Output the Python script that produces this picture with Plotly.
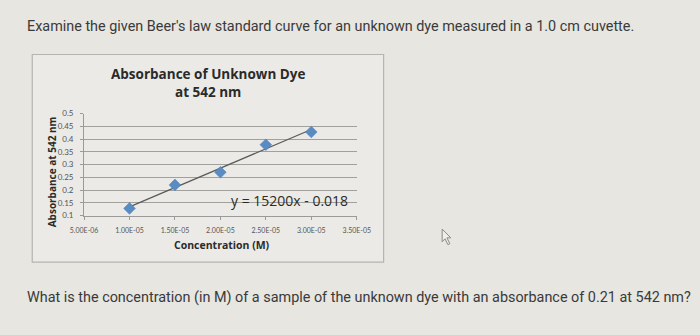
import plotly.graph_objects as go

conc = [1.0e-5, 1.5e-5, 2.0e-5, 2.5e-5, 3.0e-5]
absorb = [0.128, 0.22, 0.27, 0.378, 0.428]
slope = 15200
intercept = -0.018
trend_x = [1.0e-5, 3.0e-5]
trend_y = [slope * v + intercept for v in trend_x]

x_tickvals = [5e-6, 1e-5, 1.5e-5, 2e-5, 2.5e-5, 3e-5, 3.5e-5]
x_ticktext = ["5.00E-06", "1.00E-05", "1.50E-05", "2.00E-05", "2.50E-05", "3.00E-05", "3.50E-05"]
y_tickvals = [0.1, 0.15, 0.2, 0.25, 0.3, 0.35, 0.4, 0.45, 0.5]
y_ticktext = ["0.1", "0.15", "0.2", "0.25", "0.3", "0.35", "0.4", "0.45", "0.5"]

W, H = 700, 335
def px(x):
    return x / W
def py(y):
    return 1 - y / H

# small mouse-cursor outline seen in the screenshot (decoration)
cursor_pts = [(446, 231), (446, 244), (449, 241), (452, 247), (454, 246), (451, 240), (455, 240)]
cursor_path = "M " + " L ".join(f"{px(a):.5f},{py(b):.5f}" for a, b in cursor_pts) + " Z"

fig = go.Figure()
fig.add_trace(go.Scatter(x=trend_x, y=trend_y, mode="lines",
                         line=dict(color="#5a5a5a", width=1.2), hoverinfo="skip"))
fig.add_trace(go.Scatter(x=conc, y=absorb, mode="markers",
                         marker=dict(symbol="diamond", size=9, color="#5a8cc4",
                                     line=dict(color="#4a7bb5", width=0.5))))

font_body = "Roboto, Arial, sans-serif"
font_chart = "'Open Sans', Calibri, sans-serif"
font_tick = "Lato, Calibri, sans-serif"

fig.update_layout(
    width=W, height=H,
    margin=dict(l=0, r=0, t=0, b=0),
    paper_bgcolor="#e7e6e1",
    plot_bgcolor="rgba(0,0,0,0)",
    showlegend=False,
    xaxis=dict(domain=[px(73), px(357)], range=[5e-6, 3.5e-5],
               tickvals=x_tickvals, ticktext=x_ticktext,
               tickfont=dict(size=7, color="#555", family=font_tick),
               showgrid=False, zeroline=False,
               showline=True, linecolor="#9a9a9a", linewidth=1,
               ticks="outside", ticklen=3, tickcolor="#9a9a9a",
               ticklabelstandoff=5),
    yaxis=dict(domain=[py(217), py(112)], range=[0.1, 0.5],
               tickvals=y_tickvals, ticktext=y_ticktext,
               tickfont=dict(size=8, color="#555", family=font_tick),
               showgrid=True, gridcolor="#a0a09c", gridwidth=1,
               zeroline=False,
               showline=True, linecolor="#9a9a9a", linewidth=1,
               ticks="outside", ticklen=3, tickcolor="#9a9a9a",
               ticklabelstandoff=5),
    shapes=[dict(type="rect", xref="paper", yref="paper",
                 x0=px(19), x1=px(385), y0=py(265), y1=py(51),
                 line=dict(color="#b5b5b0", width=1.2), fillcolor="#ebeae6", layer="below"),
            dict(type="path", xref="paper", yref="paper", path=cursor_path,
                 line=dict(color="#8a8a88", width=1), fillcolor="#eeeeea")],
    annotations=[
        dict(text="Examine the given Beer's law standard curve for an unknown dye measured in a 1.0 cm cuvette.",
             xref="paper", yref="paper", x=px(11), y=py(22), xanchor="left", yanchor="middle",
             showarrow=False, font=dict(family=font_body, size=14.4, color="#3a3a3a")),
        dict(text="What is the concentration (in M) of a sample of the unknown dye with an absorbance of 0.21 at 542 nm?",
             xref="paper", yref="paper", x=px(11), y=py(301), xanchor="left", yanchor="middle",
             showarrow=False, font=dict(family=font_body, size=14.4, color="#3a3a3a")),
        dict(text="<b>Absorbance of Unknown Dye</b><br><b>at 542 nm</b>",
             xref="paper", yref="paper", x=px(202), y=py(80), xanchor="center", yanchor="middle",
             showarrow=False, align="center",
             font=dict(family=font_chart, size=13.5, color="#2a2a2a")),
        dict(text="<b>Absorbance at 542 nm</b>",
             xref="paper", yref="paper", x=px(39), y=py(172), xanchor="center", yanchor="middle",
             showarrow=False, textangle=-90,
             font=dict(family=font_chart, size=10, color="#2a2a2a")),
        dict(text="<b>Concentration (M)</b>",
             xref="paper", yref="paper", x=px(217), y=py(247), xanchor="center", yanchor="middle",
             showarrow=False,
             font=dict(family=font_chart, size=10.5, color="#2a2a2a")),
        dict(text="y = 15200x - 0.018",
             xref="paper", yref="paper", x=px(287), y=py(201), xanchor="center", yanchor="middle",
             showarrow=False,
             font=dict(family=font_chart, size=14, color="#2a2a2a")),
    ],
)

fig.write_html("out.html")
